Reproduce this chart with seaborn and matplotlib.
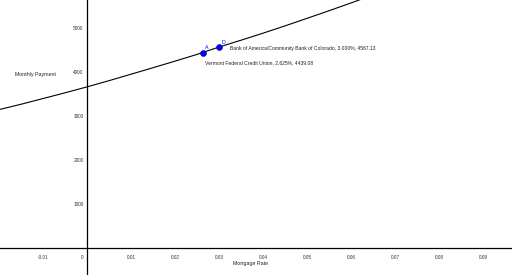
import matplotlib
matplotlib.use("Agg")
import matplotlib.pyplot as plt
import seaborn as sns
import pandas as pd

# Curve (mortgage rate -> monthly payment)
rates = [-0.0198, -0.015, -0.01, -0.005, 0.0, 0.005, 0.01, 0.015, 0.02, 0.025,
         0.03, 0.035, 0.04, 0.045, 0.05, 0.055, 0.06, 0.0625]
payments = [3150, 3267, 3397, 3527, 3662, 3803, 3950, 4097, 4247, 4400,
            4567, 4722, 4882, 5048, 5219, 5392, 5569, 5660]

# Labelled points
point_names = ["A", "D"]
point_rates = [0.02625, 0.03]
point_payments = [4439.08, 4567.13]
point_texts = ["Vermont Federal Credit Union, 2.625%, 4439.08",
               "Bank of America/Community Bank of Colorado, 3.000%, 4567.13"]

xtick_vals = [-0.01, 0.01, 0.02, 0.03, 0.04, 0.05, 0.06, 0.07, 0.08, 0.09]
xtick_labels = ["-0.01", "0.01", "0.02", "0.03", "0.04", "0.05", "0.06", "0.07", "0.08", "0.09"]
ytick_vals = [1000, 2000, 3000, 4000, 5000]
ytick_labels = ["1000", "2000", "3000", "4000", "5000"]

sns.set_theme(style="white")
plt.rcParams['font.family'] = ['Liberation Sans', 'DejaVu Sans']

fig = plt.figure(figsize=(5.12, 2.75), dpi=100)
ax = fig.add_axes([0, 0, 1, 1])

curve = pd.DataFrame({"rate": rates, "payment": payments})
sns.lineplot(data=curve, x="rate", y="payment", ax=ax, color="black", linewidth=0.8)

pts = pd.DataFrame({"rate": point_rates, "payment": point_payments})
sns.scatterplot(data=pts, x="rate", y="payment", ax=ax, color="#0000ff",
                edgecolor="#00007a", linewidth=0.4, s=18, zorder=5)

for name, r, p in zip(point_names, point_rates, point_payments):
    ax.annotate(name, (r, p), xytext=(1.5, 2.5), textcoords="offset points",
                fontsize=3.8, color="#0000ff")

ax.annotate(point_texts[0], (point_rates[0], point_payments[0]), xytext=(1.5, -8.5),
            textcoords="offset points", fontsize=3.6, color="#222222")
ax.annotate(point_texts[1], (point_rates[1], point_payments[1]), xytext=(8, -1.8),
            textcoords="offset points", fontsize=3.6, color="#222222")

ax.set_xlim(-0.0198, 0.0966)
ax.set_ylim(-614, 5636)

for s in ["top", "right"]:
    ax.spines[s].set_visible(False)
ax.spines["left"].set_position(("data", 0))
ax.spines["bottom"].set_position(("data", 0))
ax.spines["left"].set_color("black")
ax.spines["bottom"].set_color("black")
ax.spines["left"].set_linewidth(0.9)
ax.spines["bottom"].set_linewidth(0.9)

ax.set_xticks(xtick_vals)
ax.set_xticklabels(xtick_labels)
ax.set_yticks(ytick_vals)
ax.set_yticklabels(ytick_labels)
ax.tick_params(axis="both", labelsize=3.4, colors="#333333", length=1.8, width=0.5,
               direction="out", pad=0.8)
ax.tick_params(axis="x", pad=3)
ax.text(-0.0012, -170, "0", fontsize=3.4, color="#333333", ha="center", va="top")

ax.set_xlabel("")
ax.set_ylabel("")
ax.text(0.0332, -290, "Mortgage Rate", fontsize=3.8, color="#222222", ha="left", va="top")
ax.text(-0.0165, 3950, "Monthly Payment", fontsize=3.8, color="#222222", ha="left", va="center")
ax.grid(False)

fig.savefig("out.png", dpi=100)
